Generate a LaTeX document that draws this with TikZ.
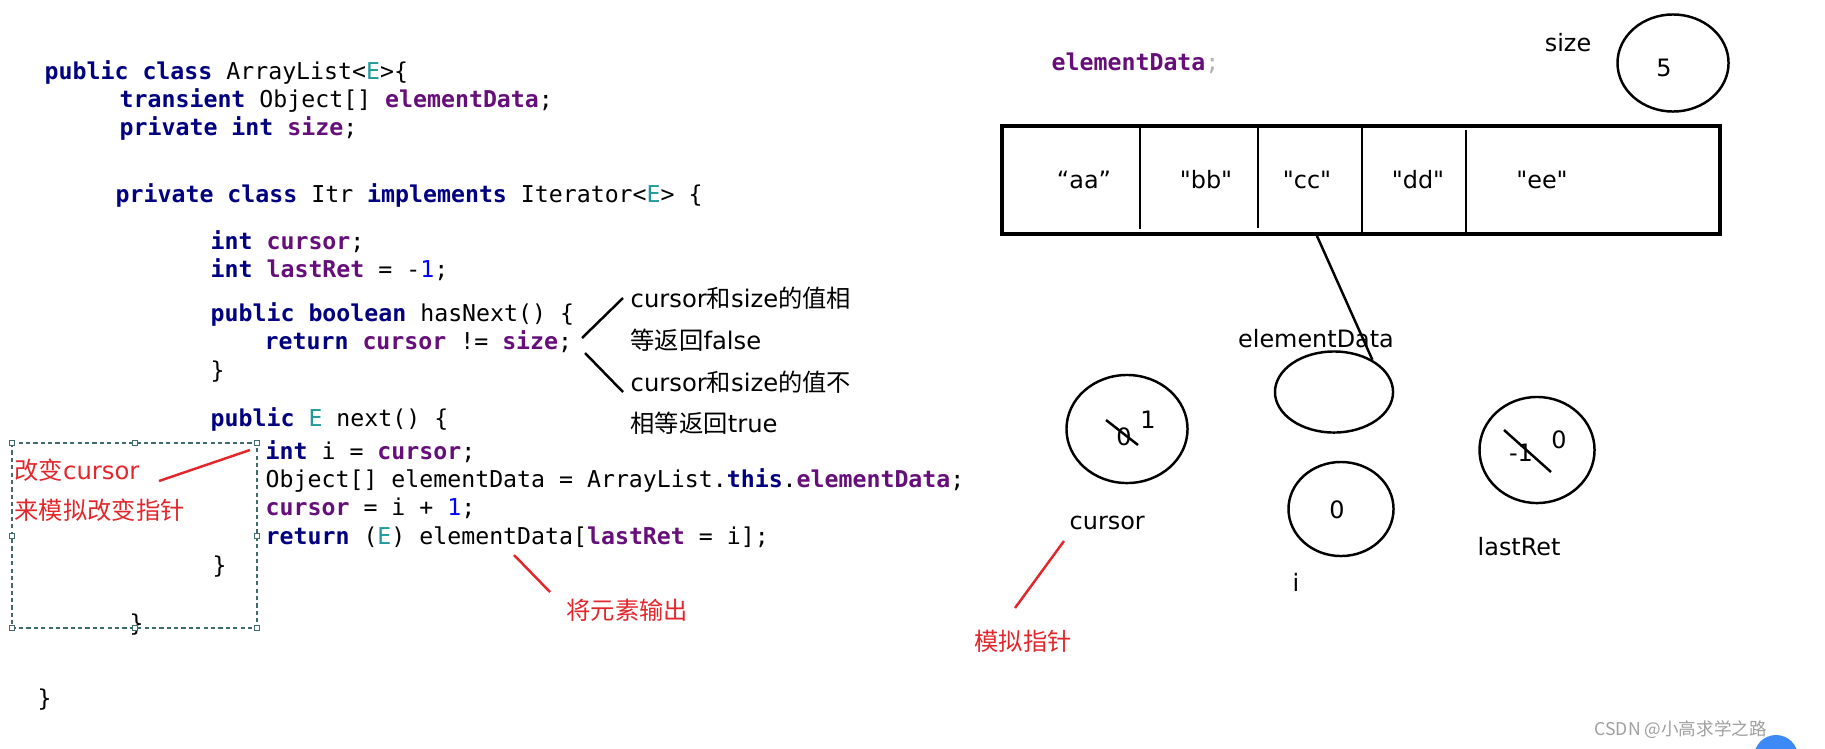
\documentclass[tikz,border=0pt]{standalone}
\usepackage{fontspec}
\setmonofont{DejaVu Sans Mono}
\newfontfamily\cjk{Noto Sans CJK SC}
\newfontfamily\lat{DejaVu Sans}[Ligatures=TeXOff]
\usetikzlibrary{shapes.geometric}
\definecolor{kwblue}{HTML}{000080}
\definecolor{fldpurple}{HTML}{660E7A}
\definecolor{tpteal}{HTML}{20999D}
\definecolor{numblue}{HTML}{0000FF}
\definecolor{notered}{HTML}{E3262B}
\definecolor{selgray}{HTML}{3F6B6B}
\definecolor{badge}{HTML}{3D8AF7}
\newcommand{\kw}[1]{\textbf{\color{kwblue}#1}}
\newcommand{\fld}[1]{\textbf{\color{fldpurple}#1}}
\newcommand{\tp}[1]{{\color{tpteal}#1}}
\newcommand{\nm}[1]{{\color{numblue}#1}}
\tikzset{
    code/.style={anchor=west, inner sep=0pt, font=\ttfamily\fontsize{6.6pt}{8pt}\selectfont},
    note/.style={anchor=west, inner sep=0pt, font=\cjk\fontsize{6.9pt}{8pt}\selectfont},
    rednote/.style={note, text=notered},
    lbl/.style={inner sep=0pt, font=\lat\fontsize{6.8pt}{8pt}\selectfont},
    var/.style={draw, ellipse, line width=0.7pt, inner sep=0pt},
    redline/.style={notered, line width=0.7pt},
    handle/.style={draw=selgray, fill=white, line width=0.3pt}
}
\begin{document}
\begin{tikzpicture}[x=0.01cm, y=-0.01cm]
    \useasboundingbox (0,0) rectangle (1825,748);
    \begin{scope}
        % 代码
        \node[code] (l1) at (44,72) {\kw{public class} ArrayList<\tp{E}>\{};
        \node[code] (l2) at (119,100) {\kw{transient} Object[] \fld{elementData};};
        \node[code] (l3) at (119,128) {\kw{private int} \fld{size};};
        \node[code] (l4) at (115,195) {\kw{private class} Itr \kw{implements} Iterator<\tp{E}> \{};
        \node[code] (l5) at (210,242) {\kw{int} \fld{cursor};};
        \node[code] (l6) at (210,270) {\kw{int} \fld{lastRet} = -\nm{1};};
        \node[code] (l7) at (210,314) {\kw{public boolean} hasNext() \{};
        \node[code] (l8) at (264,342) {\kw{return} \fld{cursor} != \fld{size};};
        \node[code] (l9) at (210,372) {\}};
        \node[code] (l10) at (210,419) {\kw{public} \tp{E} next() \{};
        \node[code] (l11) at (265,452) {\kw{int} i = \fld{cursor};};
        \node[code] (l12) at (265,480) {Object[] elementData = ArrayList.\kw{this}.\fld{elementData};};
        \node[code] (l13) at (265,508) {\fld{cursor} = i + \nm{1};};
        \node[code] (l14) at (265,537) {\kw{return} (\tp{E}) elementData[\fld{lastRet} = i];};
        \node[code] (l15) at (212,567) {\}};
        \node[code] (l16) at (129,625) {\}};
        \node[code] (l17) at (37,700) {\}};

        % 选中框
        \draw[selgray, dash pattern=on 1.2pt off 0.9pt, line width=0.35pt] (12,443) rectangle (257,628);
        \foreach \hx/\hy in {12/443, 135/443, 257/443, 12/536, 257/536, 12/628, 135/628, 257/628}
            \draw[handle] (\hx-2.5,\hy-2.5) rectangle ++(5,5);

        % hasNext 的说明
        \node[note] (h1) at (630,298) {{\lat cursor}和{\lat size}的值相};
        \node[note] (h2) at (630,340) {等返回{\lat false}};
        \node[note] (h3) at (630,382) {{\lat cursor}和{\lat size}的值不};
        \node[note] (h4) at (630,423) {相等返回{\lat true}};
        \coordinate (bA) at (582,338);
        \coordinate (bB) at (623,298);
        \coordinate (bC) at (585,353);
        \coordinate (bD) at (623,392);
        \draw[line width=0.7pt] (bA) -- (bB);
        \draw[line width=0.7pt] (bC) -- (bD);

        % 红色批注
        \node[rednote] (n1) at (14,470) {改变{\lat cursor}};
        \node[rednote] (n2) at (14,510) {来模拟改变指针};
        \node[rednote] (n3) at (566,610) {将元素输出};
        \coordinate (rA) at (159,481);
        \coordinate (rB) at (250,450);
        \coordinate (rC) at (514,555);
        \coordinate (rD) at (550,592);
        \draw[redline] (rA) -- (rB);
        \draw[redline] (rC) -- (rD);
    \end{scope}

    \begin{scope}
        % 数组 elementData 与 size
        \node[code, text=fldpurple] (edtop) at (1051,63) {\textbf{elementData}{\color{gray!60};}};
        \node[lbl] (sizel) at (1568,43) {size};
        \node[var, minimum width=1.11cm, minimum height=0.97cm] (sizev) at (1673,63) {};
        \node[lbl] (sizen) at (1664,68) {5};

        \node[draw, line width=1pt, minimum width=7.18cm, minimum height=1.08cm, inner sep=0pt] (arr) at (1361,180) {};
        \foreach \dx/\dt/\db in {1140/127/229, 1258/128/228, 1362/126/234, 1466/130/233}
            \draw[line width=0.8pt] (\dx,\dt) -- (\dx,\db);
        \node[lbl] (aa) at (1084,180) {“aa”};
        \node[lbl] (bb) at (1206,180) {"bb"};
        \node[lbl] (cc) at (1307,180) {"cc"};
        \node[lbl] (dd) at (1418,180) {"dd"};
        \node[lbl] (ee) at (1542,180) {"ee"};

        % 局部变量
        \node[lbl] (edl) at (1316,339) {elementData};
        \node[var, minimum width=1.18cm, minimum height=0.81cm] (ed) at (1334,392) {};
        \coordinate (arrp) at (1317,236);
        \draw[line width=0.7pt] (arrp) -- (ed.40);

        \node[var, minimum width=1.21cm, minimum height=1.08cm] (cur) at (1127,429) {};
        \node[lbl] (cur0) at (1124,437) {0};
        \node[lbl] (cur1) at (1148,420) {1};
        \draw[line width=0.7pt] (1106,420) -- (1138,445);
        \node[lbl, anchor=west] (curl) at (1069,523) {cursor};

        \node[var, minimum width=1.05cm, minimum height=0.94cm] (iv) at (1341,509) {};
        \node[lbl] (i0) at (1337,510) {0};
        \node[lbl, anchor=west] (il) at (1292,582) {i};

        \node[var, minimum width=1.15cm, minimum height=1.06cm] (lr) at (1537,450) {};
        \node[lbl] (lrm) at (1521,453) {-1};
        \node[lbl] (lr0) at (1559,440) {0};
        \draw[line width=0.7pt] (1504,430) -- (1551,472);
        \node[lbl, anchor=west] (lrl) at (1477,547) {lastRet};

        % 模拟指针
        \node[rednote] (n4) at (974,641) {模拟指针};
        \coordinate (rE) at (1064,541);
        \coordinate (rF) at (1015,608);
        \draw[redline] (rE) -- (rF);
    \end{scope}

    % 水印
    \node[anchor=west, inner sep=0pt, text=gray!75, font=\cjk\fontsize{5pt}{6pt}\selectfont] (wm) at (1594,730) {CSDN @小高求学之路};
    \fill[badge] (1776,757) circle [radius=22];
\end{tikzpicture}
\end{document}
